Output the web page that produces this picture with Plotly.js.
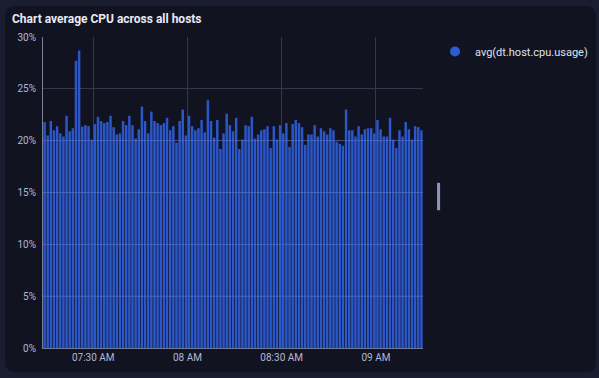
<!DOCTYPE html>
<html>
<head>
<meta charset="utf-8">
<script src="https://cdn.plot.ly/plotly-3.0.1.min.js"></script>
<style>
  html, body { margin: 0; padding: 0; background: #1a1c2f; width: 599px; height: 378px; overflow: hidden; }
  #card { position: absolute; left: 5px; top: 6px; width: 591px; height: 366px; border-radius: 9px; background: #121321; }
  #chart { position: absolute; left: 0; top: 0; width: 599px; height: 378px; }
</style>
</head>
<body>
<div id="card"></div>
<div id="chart"></div>
<script>
// ---- data ----
const seriesName = "avg(dt.host.cpu.usage)";
const startTime = "2024-01-01 07:14:30";   // first 1-minute bucket (centre)
const cpuUsage = [
  21.8, 20.5, 21.9, 21.0, 21.4, 20.7, 20.4, 22.4, 20.9, 21.2,
  27.7, 28.7, 21.35, 21.5, 21.4, 20.1, 21.6, 22.3, 21.9, 21.7,
  21.8, 22.4, 21.3, 20.6, 20.7, 21.9, 21.5, 22.4, 21.5, 20.2,
  21.1, 23.3, 21.9, 20.7, 22.8, 21.9, 21.7, 21.5, 21.7, 22.2,
  21.0, 21.4, 19.8, 21.9, 23.0, 20.5, 22.4, 21.4, 21.0, 21.2,
  22.0, 20.8, 23.9, 21.9, 20.3, 22.0, 19.2, 20.7, 22.6, 21.5,
  20.9, 22.2, 19.2, 20.1, 21.5, 21.4, 22.3, 20.2, 20.6, 21.0,
  21.1, 21.4, 19.3, 21.4, 20.1, 21.5, 20.7, 21.7, 19.4, 21.6,
  22.0, 21.7, 21.3, 19.6, 20.6, 20.6, 21.5, 20.4, 21.2, 20.9,
  20.6, 21.2, 21.0, 19.9, 19.7, 19.5, 23.0, 21.0, 21.0, 20.4,
  21.4, 20.6, 21.1, 21.2, 21.2, 20.7, 22.0, 21.1, 20.4, 20.4,
  22.2, 20.1, 19.3, 21.0, 20.4, 21.8, 21.1, 20.1, 21.4, 21.3,
  21.0
];
const xRange = ["2024-01-01 07:14:00", "2024-01-01 09:15:00"];
const xTickVals = ["2024-01-01 07:30:00", "2024-01-01 08:00:00", "2024-01-01 08:30:00", "2024-01-01 09:00:00"];
const xTickText = ["07:30 AM", "08 AM", "08:30 AM", "09 AM"];
const yTickVals = [0, 5, 10, 15, 20, 25, 30];
const yTickText = ["0%", "5%", "10%", "15%", "20%", "25%", "30%"];

// timestamps: one bucket per minute
const t0 = new Date(startTime.replace(" ", "T") + "Z").getTime();
function fmt(ms) { return new Date(ms).toISOString().replace("T", " ").slice(0, 19); }
const times = cpuUsage.map((_, i) => fmt(t0 + i * 60000));

const barColor = "#2c57c9";
const tickFont = { family: "Roboto, 'Noto Sans', sans-serif", size: 10, color: "#b3b8d2" };

const traces = [
  { type: "bar", x: times, y: cpuUsage, name: seriesName, showlegend: false,
    marker: { color: barColor, line: { width: 0 } }, hoverinfo: "skip" },
  { type: "scatter", mode: "markers", x: [null], y: [null], name: seriesName,
    marker: { symbol: "circle", size: 10, color: "#2d5bd6" }, hoverinfo: "skip" }
];

const shapes = yTickVals.filter(v => v > 0 && v < 25).map(v => ({
  type: "line", xref: "paper", x0: 0, x1: 1, yref: "y", y0: v, y1: v,
  line: { color: "rgba(130,150,210,0.30)", width: 1 }, layer: "above"
}));
shapes.push({ type: "rect", xref: "paper", yref: "paper", x0: 1.037, x1: 1.045, y0: 0.443, y1: 0.531,
  fillcolor: "#8d96bd", line: { width: 0 } });

const layout = {
  width: 599, height: 378,
  margin: { l: 43, r: 176, t: 37, b: 30, pad: 0, autoexpand: false },
  paper_bgcolor: "rgba(0,0,0,0)", plot_bgcolor: "rgba(0,0,0,0)",
  bargap: 0.22,
  title: { text: "Chart average CPU across all hosts", xref: "container", yref: "container",
    x: 0.02, xanchor: "left", y: 0.95, yanchor: "middle",
    font: { family: "Roboto, 'Noto Sans', sans-serif", size: 12, color: "#e8eaf5", weight: 700 } },
  xaxis: { type: "date", range: xRange, tickmode: "array", tickvals: xTickVals, ticktext: xTickText,
    showgrid: true, gridcolor: "#34364a", gridwidth: 1, ticks: "", tickfont: tickFont,
    showline: true, linecolor: "#6f7694", linewidth: 1, zeroline: false, fixedrange: true },
  yaxis: { range: [0, 30], tickmode: "array", tickvals: yTickVals, ticktext: yTickText,
    showgrid: true, gridcolor: "#34364a", gridwidth: 1, ticks: "", tickfont: tickFont,
    ticklabelstandoff: 4,
    showline: true, linecolor: "#7d8198", linewidth: 1, zeroline: false, fixedrange: true },
  showlegend: true,
  legend: { x: 1.0316, xanchor: "left", y: 1.0, yanchor: "top", bgcolor: "rgba(0,0,0,0)",
    font: { family: "Roboto, 'Noto Sans', sans-serif", size: 11, color: "#dfe2ef" }, itemwidth: 30 },
  shapes: shapes
};

Plotly.newPlot("chart", traces, layout, { staticPlot: true, displayModeBar: false });
</script>
</body>
</html>
